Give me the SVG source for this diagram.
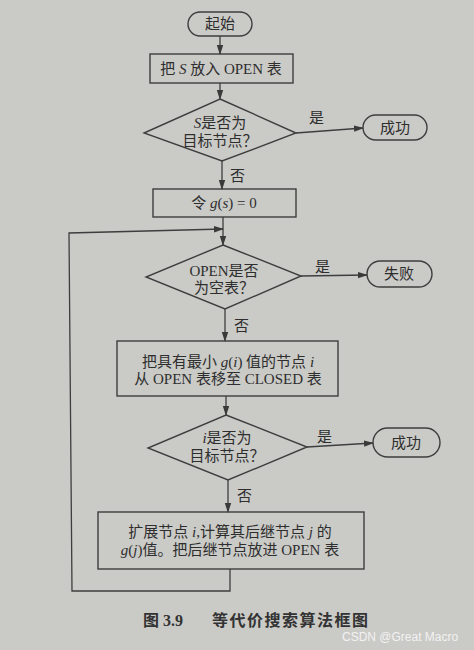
<svg xmlns="http://www.w3.org/2000/svg" width="474" height="650" viewBox="0 0 474 650">
<defs>
<marker id="ah" markerWidth="10" markerHeight="8" refX="9" refY="4" orient="auto" markerUnits="userSpaceOnUse">
<path d="M0,0.8 L10,4 L0,7.2 Z" fill="#3a3a3a"/>
</marker>
<style>
.sh{fill:none;stroke:#3e3e3e;stroke-width:1.4}
.ln{fill:none;stroke:#3e3e3e;stroke-width:1.3}
.t{font-family:"Liberation Serif","Noto Sans CJK SC",serif;font-size:15px;fill:#2e2e2e;text-anchor:middle}
.lb{font-family:"Liberation Serif","Noto Sans CJK SC",serif;font-size:15px;fill:#2e2e2e}
.it{font-style:italic}
</style>
</defs>
<rect x="0" y="0" width="474" height="650" fill="#cacac7"/>
<g id="connectors">
<line class="ln" x1="220" y1="36" x2="220" y2="54" marker-end="url(#ah)"/>
<line class="ln" x1="220" y1="83" x2="220" y2="99" marker-end="url(#ah)"/>
<line class="ln" x1="296" y1="133" x2="363" y2="128" marker-end="url(#ah)"/>
<line class="ln" x1="222" y1="161" x2="222" y2="189" marker-end="url(#ah)"/>
<line class="ln" x1="223" y1="217" x2="223" y2="245" marker-end="url(#ah)"/>
<line class="ln" x1="301" y1="276" x2="367" y2="275" marker-end="url(#ah)"/>
<line class="ln" x1="225" y1="309" x2="225" y2="341" marker-end="url(#ah)"/>
<line class="ln" x1="226" y1="396" x2="226" y2="415" marker-end="url(#ah)"/>
<line class="ln" x1="307" y1="447" x2="373" y2="443" marker-end="url(#ah)"/>
<line class="ln" x1="228" y1="480" x2="228" y2="512" marker-end="url(#ah)"/>
<polyline class="ln" points="230,569 230,591 72,591 69,233 223,229" marker-end="url(#ah)"/>
<text class="lb" x="309" y="123">是</text>
<text class="lb" x="230" y="181">否</text>
<text class="lb" x="315" y="272">是</text>
<text class="lb" x="234" y="331">否</text>
<text class="lb" x="317" y="442">是</text>
<text class="lb" x="237" y="501">否</text>
</g>
<g id="start">
<rect class="sh" x="188" y="12" width="64" height="24" rx="12"/>
<text class="t" x="220" y="29">起始</text>
</g>
<g id="put-s">
<rect class="sh" x="150" y="54" width="143" height="29"/>
<text class="t" x="221" y="74">把 <tspan class="it">S</tspan> 放入 OPEN 表</text>
</g>
<g id="s-goal">
<polygon class="sh" points="220,99 296,133 222,161 144,133"/>
<text class="t" x="220" y="128"><tspan class="it">S</tspan>是否为</text>
<text class="t" x="220" y="146">目标节点？</text>
</g>
<g id="success1">
<rect class="sh" x="363" y="115" width="64" height="25" rx="12.5"/>
<text class="t" x="395" y="133">成功</text>
</g>
<g id="init-g">
<rect class="sh" x="153" y="189" width="143" height="28"/>
<text class="t" x="224" y="208">令 <tspan class="it">g</tspan>(<tspan class="it">s</tspan>) = 0</text>
</g>
<g id="open-empty">
<polygon class="sh" points="223,245 301,276 225,309 146,277"/>
<text class="t" x="224" y="276">OPEN是否</text>
<text class="t" x="224" y="293">为空表？</text>
</g>
<g id="fail">
<rect class="sh" x="367" y="261" width="65" height="26" rx="13"/>
<text class="t" x="399" y="279">失败</text>
</g>
<g id="move-min">
<rect class="sh" x="117" y="341" width="221" height="55"/>
<text class="t" x="228" y="367">把具有最小 <tspan class="it">g</tspan>(<tspan class="it">i</tspan>) 值的节点 <tspan class="it">i</tspan></text>
<text class="t" x="228" y="384">从 OPEN 表移至 CLOSED 表</text>
</g>
<g id="i-goal">
<polygon class="sh" points="226,415 307,447 228,480 148,448"/>
<text class="t" x="227" y="443"><tspan class="it">i</tspan>是否为</text>
<text class="t" x="227" y="461">目标节点？</text>
</g>
<g id="success2">
<rect class="sh" x="373" y="428" width="67" height="29" rx="14.5"/>
<text class="t" x="406" y="448">成功</text>
</g>
<g id="expand">
<rect class="sh" x="98" y="512" width="266" height="57"/>
<text class="t" x="230" y="537">扩展节点 <tspan class="it">i</tspan>,计算其后继节点 <tspan class="it">j</tspan> 的</text>
<text class="t" x="230" y="555"><tspan class="it">g</tspan>(<tspan class="it">j</tspan>)值。把后继节点放进 OPEN 表</text>
</g>
<g id="caption" style="font-family:'Liberation Serif','Noto Sans CJK SC',serif;font-size:16px;font-weight:bold;fill:#333">
<text x="143" y="626">图 3.9</text>
<text x="212" y="626" letter-spacing="1.5">等代价搜索算法框图</text>
</g>
<text x="342" y="641" style="font-family:'Liberation Sans',sans-serif;font-size:12px;fill:#f2f2f2">CSDN @Great Macro</text>
</svg>
